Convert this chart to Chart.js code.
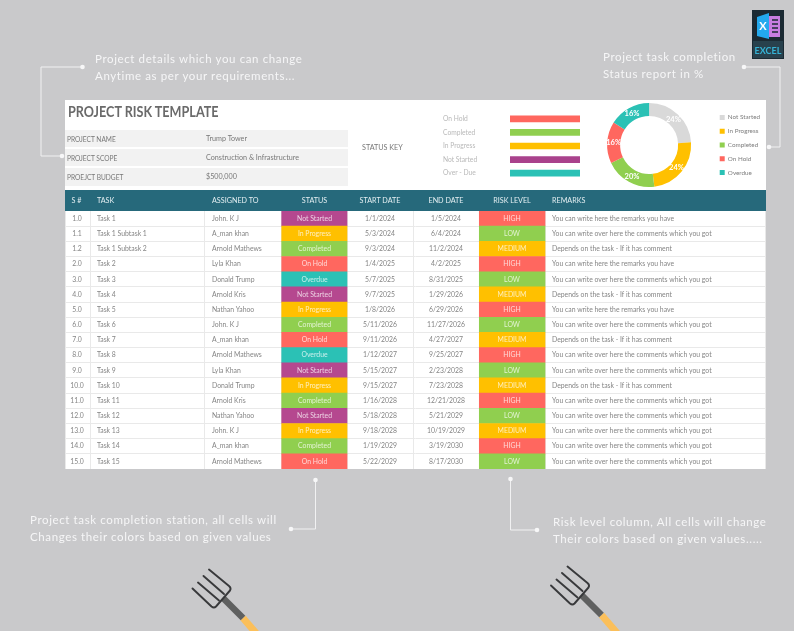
<!DOCTYPE html>
<html>
<head>
<meta charset="utf-8">
<title>Project Risk Template</title>
<script src="https://cdn.jsdelivr.net/npm/chart.js@4"></script>
<style>
  html, body { margin: 0; padding: 0; }
  body { width: 794px; height: 631px; position: relative; overflow: hidden; background: #c9c9cb; font-family: Lato, sans-serif; }
  body > * { filter: blur(0.35px); }
  .box { position: absolute; }
  .txt { position: absolute; white-space: nowrap; line-height: 1; transform: translateY(-50%); }
  .note { color: #f6f6f7; font-size: 11.5px; letter-spacing: 0.62px; }
  .info { color: #787878; font-size: 7.2px; }
  .cap { font-size: 6.6px; }
  .head { color: #e4eff2; font-size: 7.2px; }
  .mid { transform: translate(-50%, -50%); }
  canvas { position: absolute; }
  svg { position: absolute; left: 0; top: 0; }
</style>
</head>
<body>
<div class="box" style="left:65px;top:100px;width:701px;height:369px;background:#fff"></div>
<div class="box" style="left:65px;top:130px;width:283px;height:17px;background:#f2f2f2"></div>
<div class="box" style="left:65px;top:149px;width:283px;height:17px;background:#f2f2f2"></div>
<div class="box" style="left:65px;top:168px;width:283px;height:18px;background:#f2f2f2"></div>
<div class="box" style="left:65px;top:190px;width:701px;height:21px;background:#26697b"></div>

<svg width="794" height="631" viewBox="0 0 794 631">
  <g fill="none" stroke="#f1f1f2" stroke-width="1">
    <path d="M82.5 67H41V156H62"/>
    <path d="M744 67H780V147H769"/>
    <path d="M315.5 480V529H291"/>
    <path d="M510.5 479V530H537"/>
  </g>
  <g fill="#f7f7f8">
    <circle cx="82.5" cy="67" r="2.3"/><circle cx="62" cy="156" r="2.3"/>
    <circle cx="744" cy="67" r="2.3"/><circle cx="769" cy="147" r="2.3"/>
    <circle cx="315.5" cy="480" r="2.3"/><circle cx="291" cy="529" r="2.3"/>
    <circle cx="510.5" cy="479" r="2.3"/><circle cx="537" cy="530" r="2.3"/>
  </g>

  <!-- pitchforks -->
  <g id="fork">
    <path d="M243 618L262 640" stroke="#fbbf5a" stroke-width="7" fill="none"/>
    <path d="M223 598L243 618" stroke="#5f6060" stroke-width="6.5" fill="none"/>
    <g fill="none" stroke="#38393b" stroke-width="1.9" stroke-linecap="round" stroke-linejoin="round">
      <path d="M209 569.5L229 586Q231.5 588 230 590.5L216 606.5Q214 608.5 211.5 606.5L192.5 588.5"/>
      <path d="M203.5 576L224 594"/>
      <path d="M198 582.5L219 600.5"/>
    </g>
  </g>
  <use href="#fork" transform="translate(358.5,-3)"/>

  <!-- excel badge -->
  <rect x="752" y="10" width="32" height="49" fill="#1b2a33"/>
  <rect x="753" y="41" width="30" height="17" fill="#28414d"/>
  <path d="M757 17L769 13V39L757 36Z" fill="#23a9ee"/>
  <path d="M769 16H780V37H769Z" fill="#c77de0"/>
  <path d="M772 20H778M772 24H778M772 28H778M772 32H778" stroke="#1b2a33" stroke-width="1.4"/>
  <text x="763" y="30" fill="#fff" font-family="Lato" font-weight="700" font-size="11" text-anchor="middle">X</text>
  <text x="768" y="54" fill="#35b3d6" font-family="Lato" font-weight="700" font-size="9" text-anchor="middle">EXCEL</text>
</svg>

<div class="txt note" style="left:95px;top:59px">Project details which you can change</div>
<div class="txt note" style="left:95px;top:76px">Anytime as per your requirements...</div>
<div class="txt note" style="left:603px;top:57px">Project task completion</div>
<div class="txt note" style="left:603px;top:74px">Status report in %</div>
<div class="txt note" style="left:30px;top:520px">Project task completion station, all cells will</div>
<div class="txt note" style="left:30px;top:537px">Changes their colors based on given values</div>
<div class="txt note" style="left:553px;top:522px">Risk level column, All cells will change</div>
<div class="txt note" style="left:553px;top:539px">Their colors based on given values.....</div>

<div class="txt" style="left:68px;top:112px;color:#6a6a6a;font-size:14.5px;font-weight:700;transform-origin:left center;transform:translateY(-50%) scaleX(0.87)">PROJECT RISK TEMPLATE</div>
<div class="txt info cap" style="left:67px;top:138.5px">PROJECT NAME</div>
<div class="txt info cap" style="left:67px;top:157.5px">PROJECT SCOPE</div>
<div class="txt info cap" style="left:67px;top:177px">PROEJCT BUDGET</div>
<div class="txt info" style="left:206px;top:138.5px">Trump Tower</div>
<div class="txt info" style="left:206px;top:157.5px">Construction &amp; Infrastructure</div>
<div class="txt info" style="left:206px;top:177px">$500,000</div>
<div class="txt info" style="left:362px;top:148px">STATUS KEY</div>

<div class="txt head mid" style="left:76.5px;top:200.5px">S #</div>
<div class="txt head" style="left:97px;top:200.5px">TASK</div>
<div class="txt head" style="left:212px;top:200.5px">ASSIGNED TO</div>
<div class="txt head mid" style="left:314.5px;top:200.5px">STATUS</div>
<div class="txt head mid" style="left:380px;top:200.5px">START DATE</div>
<div class="txt head mid" style="left:446px;top:200.5px">END DATE</div>
<div class="txt head mid" style="left:512px;top:200.5px">RISK LEVEL</div>
<div class="txt head" style="left:552px;top:200.5px">REMARKS</div>

<canvas id="keyChart" width="137" height="76" style="left:443px;top:108px"></canvas>
<canvas id="donutChart" width="190" height="100" style="left:580px;top:95px"></canvas>
<canvas id="tableChart" width="701" height="258" style="left:65px;top:211px"></canvas>

<script>
// status key
const keyLabels = ["On Hold", "Completed", "In Progress", "Not Started", "Over - Due"];
const keyValues = [1, 1, 1, 1, 1];

// doughnut
const donutLabels = ["Not Started", "In Progress", "Completed", "On Hold", "Overdue"];
const donutValues = [24, 24, 20, 16, 16];

// table columns
const serials = ["1.0", "1.1", "1.2", "2.0", "3.0", "4.0", "5.0", "6.0", "7.0", "8.0", "9.0", "10.0", "11.0", "12.0", "13.0", "14.0", "15.0"];
const tasks = ["Task 1", "Task 1 Subtask 1", "Task 1 Subtask 2", "Task 2", "Task 3", "Task 4", "Task 5", "Task 6", "Task 7", "Task 8", "Task 9", "Task 10", "Task 11", "Task 12", "Task 13", "Task 14", "Task 15"];
const assignees = ["John. K J", "A_man khan", "Arnold Mathews", "Lyla Khan", "Donald Trump", "Arnold Kris", "Nathan Yahoo", "John. K J", "A_man khan", "Arnold Mathews", "Lyla Khan", "Donald Trump", "Arnold Kris", "Nathan Yahoo", "John. K J", "A_man khan", "Arnold Mathews"];
const statuses = ["Not Started", "In Progress", "Completed", "On Hold", "Overdue", "Not Started", "In Progress", "Completed", "On Hold", "Overdue", "Not Started", "In Progress", "Completed", "Not Started", "In Progress", "Completed", "On Hold"];
const startDates = ["1/1/2024", "5/3/2024", "9/3/2024", "1/4/2025", "5/7/2025", "9/7/2025", "1/8/2026", "5/11/2026", "9/11/2026", "1/12/2027", "5/15/2027", "9/15/2027", "1/16/2028", "5/18/2028", "9/18/2028", "1/19/2029", "5/22/2029"];
const endDates = ["1/5/2024", "6/4/2024", "11/2/2024", "4/2/2025", "8/31/2025", "1/29/2026", "6/29/2026", "11/27/2026", "4/27/2027", "9/25/2027", "2/23/2028", "7/23/2028", "12/21/2028", "5/21/2029", "10/19/2029", "3/19/2030", "8/17/2030"];
const riskLevels = ["HIGH", "LOW", "MEDIUM", "HIGH", "LOW", "MEDIUM", "HIGH", "LOW", "MEDIUM", "HIGH", "LOW", "MEDIUM", "HIGH", "LOW", "MEDIUM", "HIGH", "LOW"];
const remarks = [
  "You can write here the remarks you have",
  "You can write over here the comments which you got",
  "Depends on the task - If it has comment",
  "You can write here the remarks you have",
  "You can write over here the comments which you got",
  "Depends on the task - If it has comment",
  "You can write here the remarks you have",
  "You can write over here the comments which you got",
  "Depends on the task - If it has comment",
  "You can write over here the comments which you got",
  "You can write over here the comments which you got",
  "Depends on the task - If it has comment",
  "You can write over here the comments which you got",
  "You can write over here the comments which you got",
  "You can write over here the comments which you got",
  "You can write over here the comments which you got",
  "You can write over here the comments which you got"
];

const statusColors = { "Not Started": "#b5488f", "In Progress": "#ffc000", "Completed": "#90cf4f", "On Hold": "#ff675f", "Overdue": "#2bc1b5" };
const riskColors = { HIGH: "#ff675f", LOW: "#90cf4f", MEDIUM: "#ffc000" };
const keyColors = ["#ff675f", "#90cf4f", "#ffc000", "#a9428c", "#2bc1b5"];
const donutColors = ["#d9d9d9", "#ffc000", "#90cf4f", "#ff675f", "#2bc1b5"];

// table layout, x scale runs over the width of the table
const colEdges = [0, 25.5, 139.3, 216.7, 282, 348, 414.3, 480, 700.5];
const bodyFont = "6.85px Lato, sans-serif";

Chart.defaults.animation = false;
Chart.defaults.responsive = false;
Chart.defaults.font.family = "Lato, sans-serif";
Chart.defaults.plugins.tooltip.enabled = false;

new Chart(document.getElementById("keyChart"), {
  type: "bar",
  data: {
    labels: keyLabels,
    datasets: [{ data: keyValues, backgroundColor: keyColors, barThickness: 6 }]
  },
  options: {
    indexAxis: "y",
    maintainAspectRatio: false,
    plugins: { legend: { display: false } },
    scales: {
      x: { display: false, min: 0, max: 1 },
      y: {
        grid: { display: false },
        border: { display: false },
        afterFit: (s) => { s.width = 67; },
        ticks: { crossAlign: "far", color: "#b9b9b9", font: { size: 6.7 }, padding: 0 }
      }
    }
  }
});

// percent labels on the slices
const sliceLabels = {
  id: "sliceLabels",
  afterDatasetsDraw(chart) {
    const ctx = chart.ctx;
    ctx.save();
    ctx.font = "700 7.5px Lato, sans-serif";
    ctx.fillStyle = "#fff";
    ctx.textAlign = "center";
    ctx.textBaseline = "middle";
    chart.getDatasetMeta(0).data.forEach((arc, i) => {
      const p = arc.tooltipPosition();
      ctx.fillText(donutValues[i] + "%", p.x, p.y);
    });
    ctx.restore();
  }
};

new Chart(document.getElementById("donutChart"), {
  type: "doughnut",
  data: {
    labels: donutLabels,
    datasets: [{ data: donutValues, backgroundColor: donutColors, borderWidth: 0 }]
  },
  options: {
    cutout: "69%",
    maintainAspectRatio: false,
    layout: { padding: { top: 8, bottom: 8, left: 6 } },
    plugins: {
      legend: {
        position: "right",
        labels: { boxWidth: 5, boxHeight: 5, padding: 7.5, color: "#7d7d7d", font: { size: 6.3 } }
      }
    }
  },
  plugins: [sliceLabels]
});

// rows are drawn from the same scales as the coloured status and risk cells
const tableText = {
  id: "tableText",
  afterDatasetsDraw(chart) {
    const { ctx, scales } = chart;
    const columns = [
      { values: serials, at: 12, align: "center" },
      { values: tasks, at: 32, align: "left" },
      { values: assignees, at: 147, align: "left" },
      { values: statuses, at: 249.5, align: "center", light: true },
      { values: startDates, at: 315, align: "center" },
      { values: endDates, at: 381, align: "center" },
      { values: riskLevels, at: 447, align: "center", light: true },
      { values: remarks, at: 487, align: "left" }
    ];
    ctx.save();
    ctx.font = bodyFont;
    ctx.textBaseline = "middle";
    columns.forEach((col) => {
      ctx.textAlign = col.align;
      ctx.fillStyle = col.light ? "rgba(255,255,255,0.75)" : "#858585";
      col.values.forEach((v, i) => {
        ctx.fillText(v, scales.x.getPixelForValue(col.at), scales.y.getPixelForValue(i));
      });
    });
    ctx.restore();
  }
};

new Chart(document.getElementById("tableChart"), {
  type: "bar",
  data: {
    labels: serials,
    datasets: [
      {
        data: statuses.map(() => [colEdges[3], colEdges[4]]),
        backgroundColor: statuses.map((s) => statusColors[s])
      },
      {
        data: riskLevels.map(() => [colEdges[6], colEdges[7]]),
        backgroundColor: riskLevels.map((r) => riskColors[r])
      }
    ]
  },
  options: {
    indexAxis: "y",
    maintainAspectRatio: false,
    grouped: false,
    barPercentage: 1,
    categoryPercentage: 1,
    plugins: { legend: { display: false } },
    scales: {
      x: {
        type: "linear",
        min: 0,
        max: 701,
        afterBuildTicks: (s) => { s.ticks = colEdges.map((v) => ({ value: v })); },
        grid: { color: "#e9e9e9", drawTicks: false },
        border: { display: false },
        ticks: { display: false }
      },
      y: {
        grid: { color: "#e9e9e9", offset: true, drawTicks: false },
        border: { display: false },
        ticks: { display: false }
      }
    }
  },
  plugins: [tableText]
});
</script>
</body>
</html>
